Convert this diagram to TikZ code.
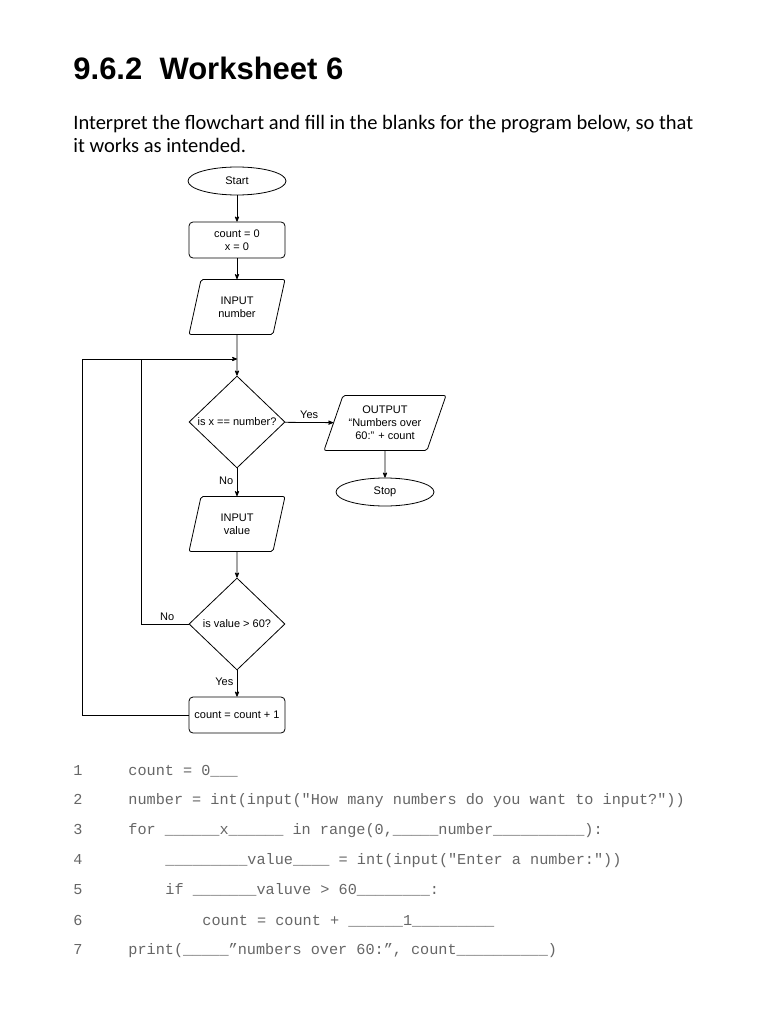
\documentclass[tikz,border=0pt]{standalone}
\usepackage{fontspec}
\setmainfont{Liberation Sans}
\newfontfamily\bodyfont{Carlito}
\newfontfamily\codefont{Liberation Mono}
\usetikzlibrary{arrows,shapes.geometric}

\begin{document}
\begin{tikzpicture}[x=1pt,y=-1pt,>=stealth',thick,
    term/.style={ellipse,draw,minimum width=98pt,minimum height=28pt,inner sep=0pt,font=\fontsize{11}{13}\selectfont},
    proc/.style={rectangle,rounded corners=4pt,draw,minimum width=96pt,minimum height=36pt,inner sep=1pt,align=center,font=\fontsize{11}{13}\selectfont},
    io/.style={trapezium,trapezium left angle=62,trapezium right angle=118,trapezium stretches body,draw,rounded corners=2pt,minimum height=55pt,minimum width=96pt,inner sep=1pt,align=center,font=\fontsize{11}{13}\selectfont},
    decision/.style={diamond,draw,minimum width=96pt,minimum height=92pt,inner sep=0pt,aspect=1,font=\fontsize{11}{13}\selectfont},
    lbl/.style={font=\fontsize{11}{13}\selectfont},
    code/.style={anchor=base west,inner sep=0pt,text=black!60,font=\codefont\fontsize{15.2}{17}\selectfont}]
  \useasboundingbox (0,0) rectangle (768,1024);
  % heading and instructions
  \node[anchor=base west,inner sep=0pt,font=\bfseries\fontsize{31}{34}\selectfont] (title) at (73,80) {9.6.2\ \ Worksheet 6};
  \node[anchor=base west,inner sep=0pt,font=\bodyfont\fontsize{20.5}{24}\selectfont] (intro1) at (73,130) {Interpret the flowchart and fill in the blanks for the program below, so that};
  \node[anchor=base west,inner sep=0pt,font=\bodyfont\fontsize{20.5}{24}\selectfont] (intro2) at (73,153) {it works as intended.};
  % flowchart
  \node[term] (start) at (237,181) {Start};
  \node[proc] (init) at (237,240) {count = 0\\x = 0};
  \node[io] (innum) at (237,307) {INPUT\\number};
  \coordinate (join) at (237,359);
  \node[decision] (isx) at (237,422) {is x == number?};
  \node[io,minimum width=122pt] (out) at (385,423) {OUTPUT\\``Numbers over\\60:'' + count};
  \node[term] (stop) at (385,492) {Stop};
  \node[io] (inval) at (237,524) {INPUT\\value};
  \node[decision] (isval) at (237,624) {is value > 60?};
  \node[proc] (inc) at (237,715) {count = count + 1};
  \coordinate (outer) at (82,359);
  \coordinate (inner) at (141,359);
  \draw[->] (start) -- (init);
  \draw[->] (init) -- (innum);
  \draw[->] (innum) -- (isx);
  \draw[->] (isx) -- node[lbl,above] {Yes} (out);
  \draw[->] (out) -- (stop);
  \draw[->] (isx) -- node[lbl,left,pos=0.45] {No} (inval);
  \draw[->] (inval) -- (isval);
  \draw[->] (isval) -- node[lbl,left,pos=0.45] {Yes} (inc);
  \draw (isval.west) -- node[lbl,above,pos=0.45] {No} (inner |- isval.west) -- (inner);
  \draw[->] (inc.west) -- (outer |- inc.west) -- (outer) -- (join);
  % program
  \foreach \n/\y in {1/775,2/804,3/834,4/864,5/894,6/925,7/954}
    \node[code] (num\n) at (73,\y) {\n};
  \node[code] (line1) at (128,775) {count = 0\_\_\_};
  \node[code] (line2) at (128,804) {number = int(input("How many numbers do you want to input?"))};
  \node[code] (line3) at (128,834) {for \_\_\_\_\_\_x\_\_\_\_\_\_ in range(0,\_\_\_\_\_number\_\_\_\_\_\_\_\_\_\_):};
  \node[code] (line4) at (165,864) {\_\_\_\_\_\_\_\_\_value\_\_\_\_ = int(input("Enter a number:"))};
  \node[code] (line5) at (165,894) {if \_\_\_\_\_\_\_valuve > 60\_\_\_\_\_\_\_\_:};
  \node[code] (line6) at (202,925) {count = count + \_\_\_\_\_\_1\_\_\_\_\_\_\_\_\_};
  \node[code] (line7) at (128,954) {print(\_\_\_\_\_”numbers over 60:”, count\_\_\_\_\_\_\_\_\_\_)};
\end{tikzpicture}
\end{document}
